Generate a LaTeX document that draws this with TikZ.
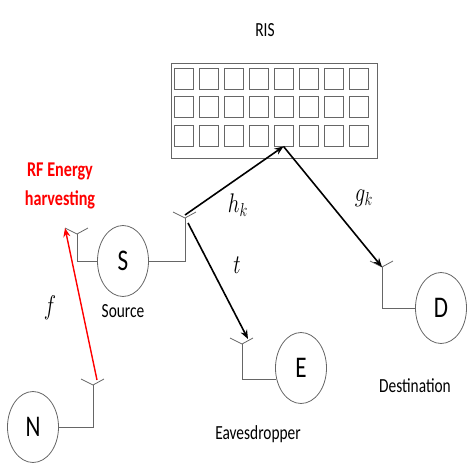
\documentclass[tikz,border=0pt]{standalone}
\usepackage{amsmath}
\usepackage{graphicx}
\usepackage{fontspec}
\setmainfont{Carlito}[FakeStretch=0.77]
\usetikzlibrary{shapes.geometric,arrows.meta}

\newcommand{\tallmath}[1]{\scalebox{1}[1.3]{$#1$}}

\tikzset{
    antenna/.pic={\draw[wire] (-12,-6) -- (0,0) -- (11,-6);}
}

\begin{document}
\begin{tikzpicture}
    [x=1pt, y=-1pt,
    wire/.style={draw=gray!80!black, line width=0.8pt},
    terminal/.style={ellipse, draw=gray!80!black, line width=0.8pt, inner sep=0pt,
        minimum width=51pt, minimum height=71pt, font=\fontsize{30}{36}\selectfont},
    cell/.style={draw=gray!80!black, line width=0.9pt, minimum width=19pt, minimum height=21pt, inner sep=0pt},
    tag/.style={font=\fontsize{20}{24}\selectfont},
    link/.style={draw=black, line width=1.6pt, -{Stealth[length=9pt,width=7pt]}},
    rf/.style={draw=red, line width=1.4pt, -{Stealth[length=9pt,width=7pt]}}]
        \useasboundingbox (0,0) rectangle (474,474);

        %% RIS panel
        \node[draw=gray!80!black, line width=0.9pt, minimum width=206pt, minimum height=95pt, inner sep=0pt] (RIS) at (274,110.5) {};
        \node[tag] (RIStext) at (265,30) {RIS};
        \foreach \r in {1,2,3}
            \foreach \c in {1,...,8}
                \node[cell] (c\r\c) at ({183.5+25*(\c-1)}, {78.5+28.5*(\r-1)}) {};

        %% terminals
        \node[terminal, label={[tag, label distance=4pt]below:Source}] (S) at (123,261) {S};
        \node[terminal] (N) at (33,427) {N};
        \node[terminal] (E) at (301,368) {E};
        \node[terminal] (D) at (441,308) {D};
        \node[tag] (Etext) at (258,434) {Eavesdropper};
        \node[tag] (Dtext) at (415,386) {Destination};

        %% antennas
        \coordinate (Sl) at (77,234);
        \coordinate (Sr) at (185,218);
        \coordinate (Nt) at (93,385);
        \coordinate (Et) at (242,344);
        \coordinate (Dt) at (382,267);
        \foreach \a in {Sl,Sr,Nt,Et,Dt}
            \pic at (\a) {antenna};
        \draw[wire] (S.west) -| (Sl);
        \draw[wire] (S.east) -| (Sr);
        \draw[wire] (N.east) -| (Nt);
        \draw[wire] (E.205) -| (Et);
        \draw[wire] (D.west) -| (Dt);

        %% links
        \draw[link] ([shift={(0,-3)}]Sr) -- (c35.south);
        \draw[link] (c35.south) -- (Dt);
        \draw[link] ([shift={(3,5)}]Sr) -- ([shift={(6,-5)}]Et);
        \draw[rf] ([shift={(4,-5)}]Nt) -- ([shift={(-12,-6)}]Sl);

        %% channel labels
        \node (hk) at (238,205) {\fontsize{20}{24}\selectfont\tallmath{h_k}};
        \node (gk) at (364,198) {\fontsize{20}{24}\selectfont\tallmath{g_k}};
        \node (tl) at (237,265) {\fontsize{20}{24}\selectfont\tallmath{t}};
        \node (fl) at (50,308) {\fontsize{20}{24}\selectfont\tallmath{f}};
        \node[text=red, align=center, font=\fontsize{21}{29}\selectfont\bfseries] (RF) at (60,186) {RF Energy\\harvesting};
    \end{tikzpicture}
\end{document}
